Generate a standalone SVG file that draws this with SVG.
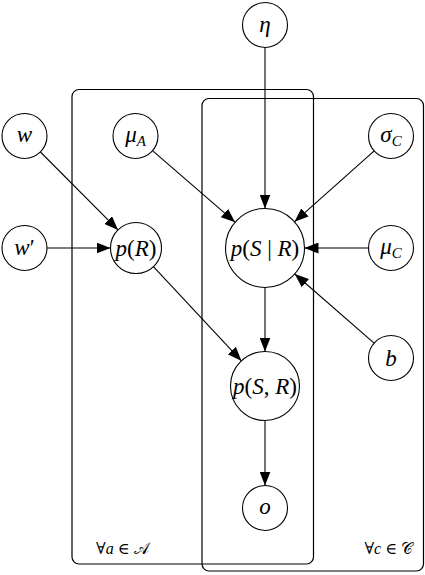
<svg xmlns="http://www.w3.org/2000/svg" width="425" height="575" viewBox="0 0 425 575">
<style>
.n{fill:#fff;stroke:#000;stroke-width:1.1}
.t{font-family:"Liberation Serif","DejaVu Serif",serif;font-style:italic;font-size:23px;text-anchor:middle;fill:#000}
.up{font-style:normal}
.plate{fill:none;stroke:#000;stroke-width:1.2}
.pl{font-family:"Liberation Serif","DejaVu Serif",serif;font-size:16px;fill:#000}
.e{stroke:#000;stroke-width:1.1;fill:none;marker-end:url(#ah)}
</style>
<defs>
<marker id="ah" markerUnits="userSpaceOnUse" markerWidth="14" markerHeight="11" refX="14" refY="5.5" orient="auto">
<path d="M0,0 L14,5.5 L0,11 z" fill="#000"/>
</marker>
</defs>
<g id="plates">
<rect class="plate" x="72" y="89.5" width="241.5" height="474.5" rx="7"/>
<rect class="plate" x="202" y="98.5" width="221.5" height="472.5" rx="7"/>
<text class="pl" x="96" y="554"><tspan>∀</tspan><tspan font-style="italic">a</tspan> ∈ 𝒜</text>
<text class="pl" x="413" y="554" text-anchor="end"><tspan>∀</tspan><tspan font-style="italic">c</tspan> ∈ 𝒞</text>
</g>
<g id="connectors">
<line class="e" x1="265" y1="47.5" x2="265" y2="208.5"/>
<line class="e" x1="40.4" y1="152" x2="118" y2="229.9"/>
<line class="e" x1="47" y1="248" x2="110.5" y2="248"/>
<line class="e" x1="152.5" y1="150.7" x2="235.1" y2="222.2"/>
<line class="e" x1="374.2" y1="150.9" x2="294.5" y2="221.8"/>
<line class="e" x1="368.5" y1="248" x2="304.5" y2="248"/>
<line class="e" x1="374.1" y1="343.2" x2="294.8" y2="274"/>
<line class="e" x1="153.4" y1="266.6" x2="241.4" y2="360.8"/>
<line class="e" x1="265" y1="287.5" x2="265" y2="351.5"/>
<line class="e" x1="265" y1="420.5" x2="265" y2="485.5"/>
</g>
<g id="eta"><circle class="n" cx="265" cy="25" r="22.5"/><text class="t" x="265" y="32">η</text></g>
<g id="w"><circle class="n" cx="24.5" cy="136" r="22.5"/><text class="t" x="24.5" y="142">w</text></g>
<g id="muA"><circle class="n" cx="135.5" cy="136" r="22.5"/><text class="t" x="135.5" y="142">μ<tspan font-size="15" dy="4">A</tspan></text></g>
<g id="sigmaC"><circle class="n" cx="391" cy="136" r="22.5"/><text class="t" x="391" y="142">σ<tspan font-size="15" dy="4">C</tspan></text></g>
<g id="wprime"><circle class="n" cx="24.5" cy="248" r="22.5"/><text class="t" x="24.5" y="255">w<tspan class="up">′</tspan></text></g>
<g id="pR"><circle class="n" cx="136" cy="248" r="25.5"/><text class="t" x="136" y="256">p<tspan class="up">(</tspan>R<tspan class="up">)</tspan></text></g>
<g id="pSgivenR"><circle class="n" cx="265" cy="248" r="39.5"/><text class="t" x="265" y="256">p<tspan class="up">(</tspan>S<tspan class="up"> | </tspan>R<tspan class="up">)</tspan></text></g>
<g id="muC"><circle class="n" cx="391" cy="248" r="22.5"/><text class="t" x="391" y="254">μ<tspan font-size="15" dy="4">C</tspan></text></g>
<g id="b"><circle class="n" cx="391" cy="358" r="22.5"/><text class="t" x="391" y="366">b</text></g>
<g id="pSR"><circle class="n" cx="265" cy="386" r="34.5"/><text class="t" x="265" y="394">p<tspan class="up">(</tspan>S<tspan class="up">, </tspan>R<tspan class="up">)</tspan></text></g>
<g id="o"><circle class="n" cx="265" cy="508" r="22.5"/><text class="t" x="265" y="514">o</text></g>
</svg>
